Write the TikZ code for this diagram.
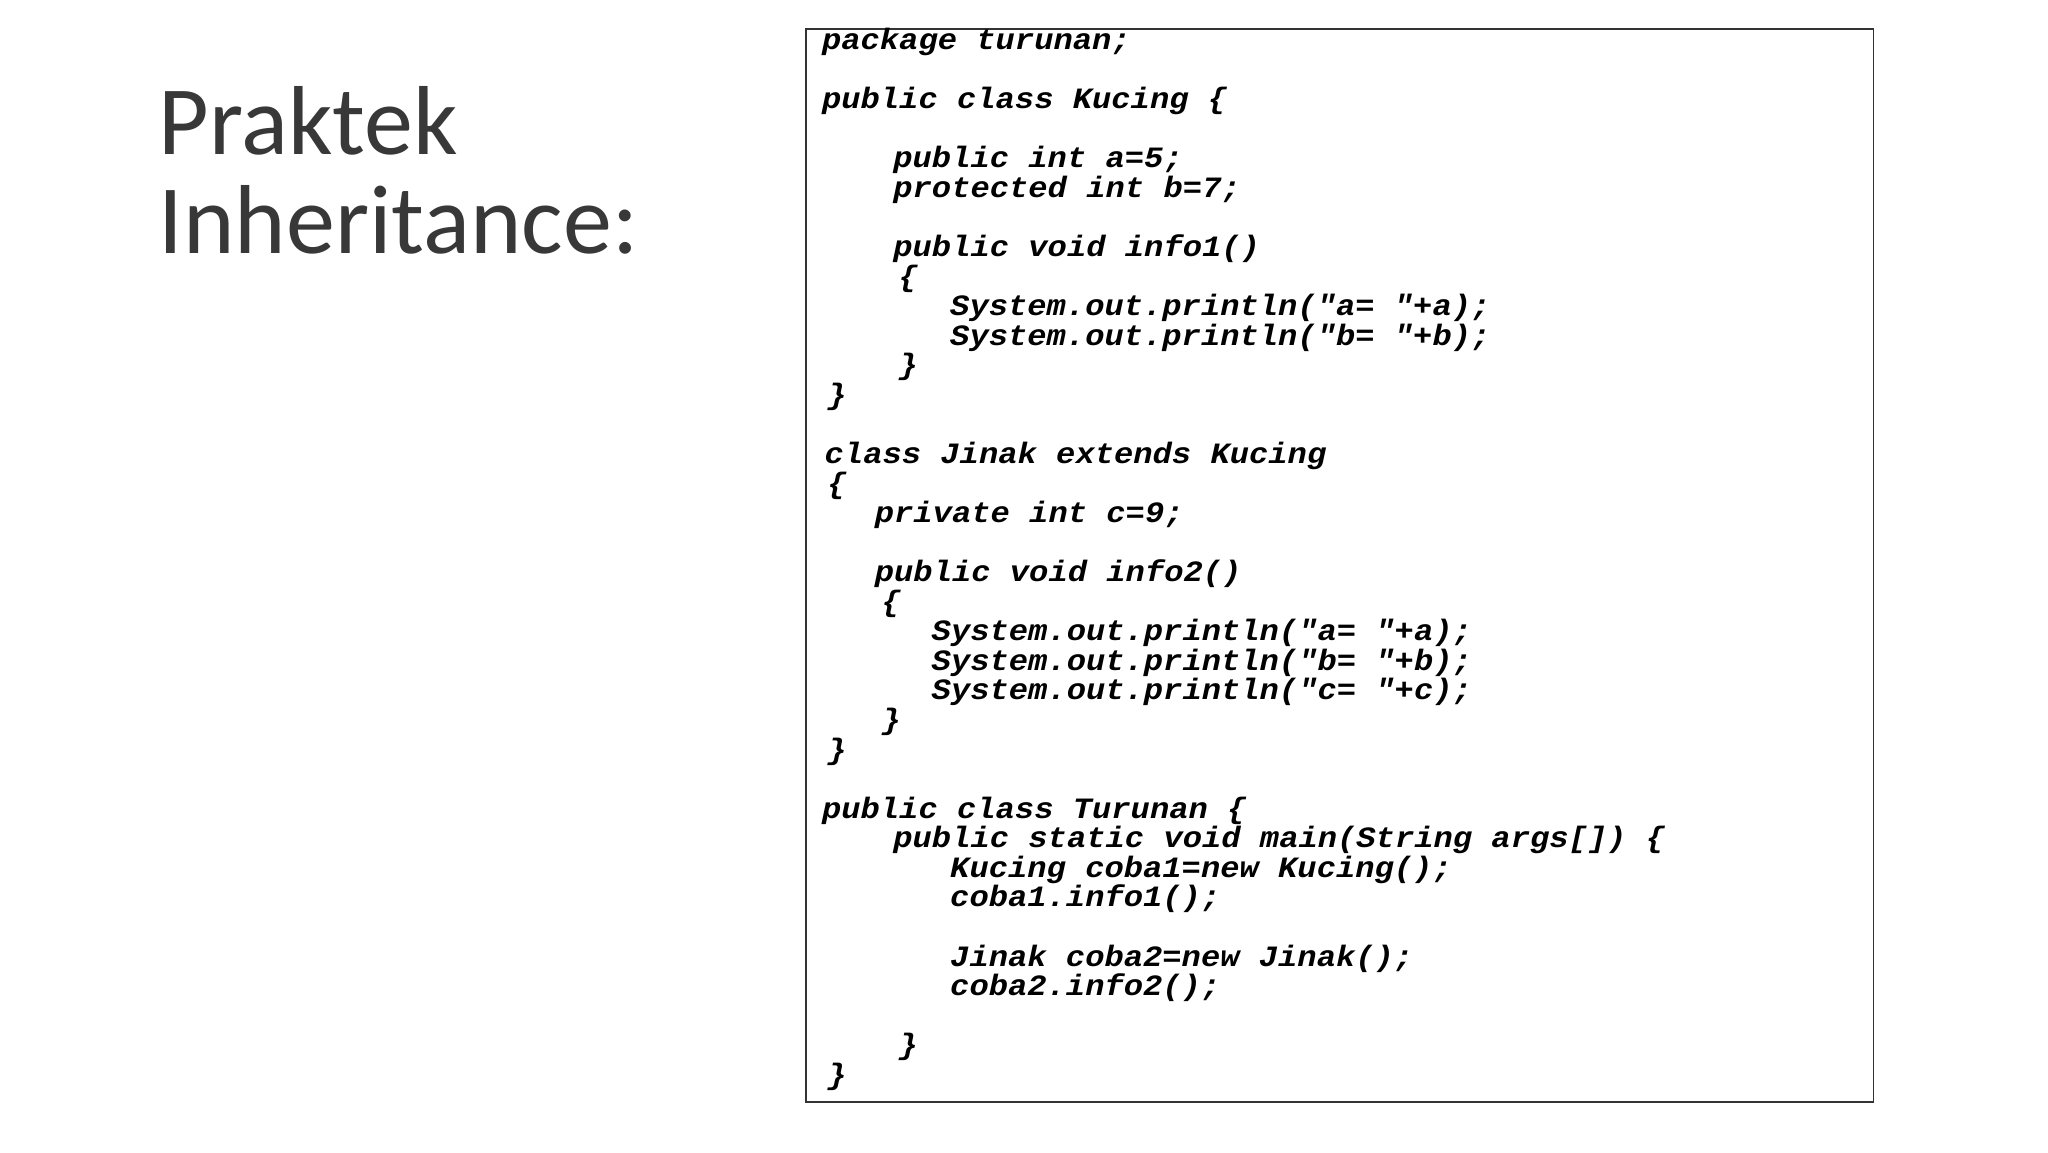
\documentclass[tikz,border=0pt]{standalone}
\usepackage{fontspec}
\newfontfamily\codefont[FakeStretch=1.09]{Liberation Mono}
\newfontfamily\titlefont{Carlito}
\begin{document}
\begin{tikzpicture}[x=1.3213pt,y=-1.3213pt,
  code/.style={anchor=mid west,inner sep=0pt,font=\codefont\bfseries\itshape\fontsize{29.5}{30}\selectfont},
  ttl/.style={anchor=base west,inner sep=0pt,text=black!78,font=\titlefont\fontsize{98}{99}\selectfont}]
\useasboundingbox (0,0) rectangle (1550,871.9);
\node[ttl] (t1) at (120,117) {Praktek};
\node[ttl] (t2) at (120,192) {Inheritance:};
\draw[line width=1.2pt,black!80] (610,22) rectangle (1418,834);
\def\L#1#2#3{\node[code] (l#1) at (#2,{36+22.37*#1}) {#3};}
\L{0}{622}{package turunan;}
\L{2}{622}{public class Kucing \{}
\L{4}{676}{public int a=5;}
\L{5}{676}{protected int b=7;}
\L{7}{676}{public void info1()}
\L{8}{680}{\{}
\L{9}{719}{System.out.println("a= "+a);}
\L{10}{719}{System.out.println("b= "+b);}
\L{11}{680}{\}}
\L{12}{626}{\}}
\L{14}{624}{class Jinak extends Kucing}
\L{15}{626}{\{}
\L{16}{662}{private int c=9;}
\L{18}{662}{public void info2()}
\L{19}{667}{\{}
\L{20}{705}{System.out.println("a= "+a);}
\L{21}{705}{System.out.println("b= "+b);}
\L{22}{705}{System.out.println("c= "+c);}
\L{23}{667}{\}}
\L{24}{626}{\}}
\L{26}{622}{public class Turunan \{}
\L{27}{676}{public static void main(String args[]) \{}
\L{28}{719}{Kucing coba1=new Kucing();}
\L{29}{719}{coba1.info1();}
\L{31}{719}{Jinak coba2=new Jinak();}
\L{32}{719}{coba2.info2();}
\L{34}{680}{\}}
\L{35}{626}{\}}
\end{tikzpicture}
\end{document}
